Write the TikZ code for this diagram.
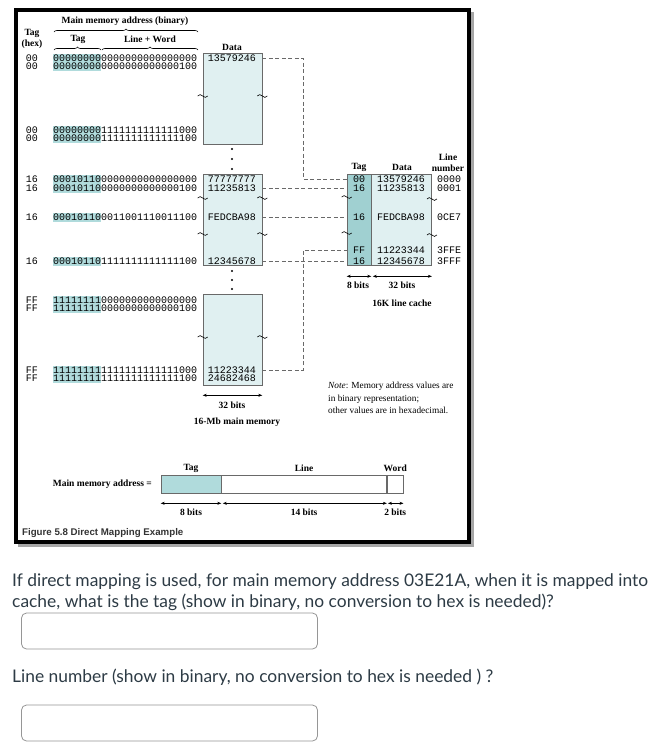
\documentclass[tikz,border=0pt]{standalone}
\usepackage{fontspec}
\setmainfont{Liberation Serif}
\setsansfont{Liberation Sans}
\setmonofont{Liberation Mono}
\newfontfamily\latofont{Lato}
\usepackage{xcolor}
\usetikzlibrary{arrows.meta,positioning,calc,decorations.pathreplacing}
\definecolor{memfill}{RGB}{224,240,241}
\definecolor{tagfill}{RGB}{160,208,209}
\definecolor{bithilite}{RGB}{176,219,220}
\definecolor{linegray}{RGB}{105,105,105}
\definecolor{canvastext}{RGB}{45,59,69}
\definecolor{boxborder}{RGB}{150,150,150}
\newcommand{\tagbits}[1]{{\setlength{\fboxsep}{0pt}\colorbox{bithilite}{\vrule height 7.5pt depth 1.5pt width 0pt#1}}}

\begin{document}
\begin{tikzpicture}[x=1pt, y=-1pt, >=Stealth,
    lbl/.style={font=\bfseries\fontsize{9.5}{11.5}\selectfont, inner sep=0pt},
    mono/.style={font=\ttfamily\fontsize{10}{10}\selectfont, inner sep=0pt},
    bin/.style={mono, anchor=west},
    memblk/.style={draw=linegray, fill=memfill, line width=0.6pt, minimum width=59pt, minimum height=91pt, inner sep=0pt},
    conn/.style={draw=linegray, dash pattern=on 4pt off 2.5pt, line width=0.5pt},
    dim/.style={{Stealth[length=4pt,width=3pt]}-{Stealth[length=4pt,width=3pt]}, line width=0.6pt},
    brc/.style={decorate, decoration={brace, amplitude=3pt}, line width=0.6pt},
    brk/.pic={\draw[line width=0.6pt] (-5,0) .. controls (-2,-5) and (2,5) .. (5,0);},
    fmt/.style={draw=linegray, line width=0.6pt, minimum height=18pt, inner sep=0pt},
    ansbox/.style={draw=boxborder, rounded corners=5pt, minimum width=296pt, minimum height=36pt, line width=0.8pt},
    qtext/.style={font=\latofont\fontsize{17.4}{20}\selectfont, text=canvastext, anchor=west, inner sep=0pt}
  ]
  \useasboundingbox (0,0) rectangle (664,747);
  \fill[white] (0,0) rectangle (664,747);

  % Figure frame with shadow
  \draw[black!35, line width=3pt] (19,13) rectangle (472,545);
  \draw[fill=white, line width=3.5pt] (16,10) rectangle (469,542);

  % Address headers
  \node[lbl] (mmaddr) at (125,21) {Main memory address (binary)};
  \draw[brc] (54,32) -- (198,32);
  \node[lbl, align=center] (taghex) at (32,39) {Tag\\(hex)};
  \node[lbl] (tagtop) at (78,39) {Tag};
  \node[lbl] (lwtop) at (150,39) {Line + Word};
  \draw[brc] (54,50) -- (101,50);
  \draw[brc] (102,50) -- (198,50);
  \node[lbl] (datatop) at (232,47) {Data};

  % Main memory blocks
  \node[memblk] (blk1) at (232.5,98.5) {};
  \node[memblk] (blk2) at (232.5,219.5) {};
  \node[memblk] (blk3) at (232.5,339.5) {};
  \pic at (blk1.west |- 0,96) {brk};
  \pic at (blk1.east |- 0,96) {brk};
  \pic at (blk2.west |- 0,198) {brk};
  \pic at (blk2.east |- 0,198) {brk};
  \pic at (blk2.west |- 0,234) {brk};
  \pic at (blk2.east |- 0,234) {brk};
  \pic at (blk3.west |- 0,337) {brk};
  \pic at (blk3.east |- 0,337) {brk};
  \fill (232,149) circle (1.2) (232,159) circle (1.2) (232,169) circle (1.2);
  \fill (232,271) circle (1.2) (232,280) circle (1.2) (232,289) circle (1.2);

  % Tags (hex) and addresses (binary)
  \node[mono] (t1) at (32,58) {00};
  \node[mono] (t2) at (32,66) {00};
  \node[mono] (t3) at (32,130) {00};
  \node[mono] (t4) at (32,138) {00};
  \node[mono] (t5) at (32,179) {16};
  \node[mono] (t6) at (32,188) {16};
  \node[mono] (t7) at (32,217) {16};
  \node[mono] (t8) at (32,261) {16};
  \node[mono] (t9) at (32,300) {FF};
  \node[mono] (t10) at (32,308) {FF};
  \node[mono] (t11) at (32,370) {FF};
  \node[mono] (t12) at (32,378) {FF};
  \node[bin] (a1) at (53,58) {\tagbits{00000000}0000000000000000};
  \node[bin] (a2) at (53,66) {\tagbits{00000000}0000000000000100};
  \node[bin] (a3) at (53,130) {\tagbits{00000000}1111111111111000};
  \node[bin] (a4) at (53,138) {\tagbits{00000000}1111111111111100};
  \node[bin] (a5) at (53,179) {\tagbits{00010110}0000000000000000};
  \node[bin] (a6) at (53,188) {\tagbits{00010110}0000000000000100};
  \node[bin] (a7) at (53,217) {\tagbits{00010110}0011001110011100};
  \node[bin] (a8) at (53,261) {\tagbits{00010110}1111111111111100};
  \node[bin] (a9) at (53,300) {\tagbits{11111111}0000000000000000};
  \node[bin] (a10) at (53,308) {\tagbits{11111111}0000000000000100};
  \node[bin] (a11) at (53,370) {\tagbits{11111111}1111111111111000};
  \node[bin] (a12) at (53,378) {\tagbits{11111111}1111111111111100};

  % Memory data
  \node[mono] (mv1) at (232,58) {13579246};
  \node[mono] (mv2) at (232,179) {77777777};
  \node[mono] (mv3) at (232,188) {11235813};
  \node[mono] (mv4) at (232,217) {FEDCBA98};
  \node[mono] (mv5) at (232,261) {12345678};
  \node[mono] (mv6) at (232,370) {11223344};
  \node[mono] (mv7) at (232,378) {24682468};
  \draw[dim] ([yshift=-10pt]blk3.south west) -- ([yshift=-10pt]blk3.south east);
  \node[lbl] (membits) at (232,405) {32 bits};
  \node[lbl] (memname) at (237,422) {16-Mb main memory};

  % Cache
  \node[lbl] (ctagtop) at (359,167) {Tag};
  \node[lbl] (cdatatop) at (402,167) {Data};
  \node[lbl, align=center] (clinetop) at (448,163) {Line\\number};
  \node[draw=linegray, fill=tagfill, line width=0.6pt, minimum width=24pt, minimum height=91pt, inner sep=0pt] (ctag) at (359,219.5) {};
  \node[draw=linegray, fill=memfill, line width=0.6pt, minimum width=60pt, minimum height=91pt, inner sep=0pt, right=0pt of ctag] (cdata) {};
  \pic at (ctag.west |- 0,197) {brk};
  \pic at (ctag.west |- 0,233) {brk};
  \pic at (cdata.east |- 0,199) {brk};
  \pic at (cdata.east |- 0,235) {brk};
  \node[mono] (ct1) at (359,179) {00};
  \node[mono] (ct2) at (359,188) {16};
  \node[mono] (ct3) at (359,217) {16};
  \node[mono] (ct4) at (359,250) {FF};
  \node[mono] (ct5) at (359,261) {16};
  \node[mono] (cd1) at (401,179) {13579246};
  \node[mono] (cd2) at (401,188) {11235813};
  \node[mono] (cd3) at (401,217) {FEDCBA98};
  \node[mono] (cd4) at (401,250) {11223344};
  \node[mono] (cd5) at (401,261) {12345678};
  \node[mono] (cl1) at (449,179) {0000};
  \node[mono] (cl2) at (449,188) {0001};
  \node[mono] (cl3) at (449,217) {0CE7};
  \node[mono] (cl4) at (449,250) {3FFE};
  \node[mono] (cl5) at (449,261) {3FFF};
  \draw[dim] ([yshift=-11pt]ctag.south west) -- ([yshift=-11pt]ctag.south east);
  \draw[dim] ([yshift=-11pt, xshift=1.5pt]cdata.south west) -- ([yshift=-11pt]cdata.south east);
  \node[lbl] (cbits1) at (358,285) {8 bits};
  \node[lbl] (cbits2) at (402,285) {32 bits};
  \node[lbl] (cname) at (402,303) {16K line cache};

  % Mapping connectors
  \coordinate (vx) at (303,0);
  \draw[conn] (mv1 -| blk1.east) -- (mv1 -| vx) |- (ct1 -| ctag.west);
  \draw[conn] (mv3 -| blk2.east) -- (ct2 -| ctag.west);
  \draw[conn] (mv4 -| blk2.east) -- (ct3 -| ctag.west);
  \draw[conn] (mv5 -| blk2.east) -- (ct5 -| ctag.west);
  \draw[conn] (mv6 -| blk3.east) -- (mv6 -| vx) |- (ct4 -| ctag.west);

  % Note
  \node[font=\fontsize{9.3}{12.5}\selectfont, align=left, anchor=west, inner sep=0pt] (note) at (328,398)
    {\textit{Note}: Memory address values are\\in binary representation;\\other values are in hexadecimal.};

  % Address format
  \node[lbl, anchor=east] (fmtname) at (152,484) {Main memory address =};
  \node[fmt, fill=bithilite, minimum width=60pt] (ftag) at (191,484) {};
  \node[fmt, minimum width=165pt, right=0pt of ftag] (fline) {};
  \node[fmt, minimum width=16pt, right=0pt of fline] (fword) {};
  \node[lbl] (ftagtop) at (ftag |- 0,468) {Tag};
  \node[lbl] (flinetop) at (fline |- 0,468) {Line};
  \node[lbl] (fwordtop) at (fword |- 0,468) {Word};
  \draw[dim] ([yshift=-10pt]ftag.south west) -- ([yshift=-10pt]ftag.south east);
  \draw[dim] ([yshift=-10pt, xshift=1.5pt]fline.south west) -- ([yshift=-10pt]fline.south east);
  \draw[dim] ([yshift=-10pt, xshift=1pt]fword.south west) -- ([yshift=-10pt]fword.south east);
  \node[lbl] (ftagbits) at (ftag |- 0,512) {8 bits};
  \node[lbl] (flinebits) at (fline |- 0,512) {14 bits};
  \node[lbl] (fwordbits) at (fword |- 0,512) {2 bits};

  % Caption
  \node[font=\sffamily\bfseries\fontsize{9.7}{11}\selectfont, text=black!80, anchor=west, inner sep=0pt] (caption) at (22,533) {Figure 5.8 Direct Mapping Example};

  % Question
  \node[qtext] (q1) at (12,582) {If direct mapping is used, for main memory address 03E21A, when it is mapped into};
  \node[qtext] (q2) at (12,602) {cache, what is the tag (show in binary, no conversion to hex is needed)?};
  \node[ansbox] (ans1) at (169.5,631) {};
  \node[qtext] (q3) at (12,677) {Line number (show in binary, no conversion to hex is needed ) ?};
  \node[ansbox] (ans2) at (169.5,723) {};
\end{tikzpicture}
\end{document}
